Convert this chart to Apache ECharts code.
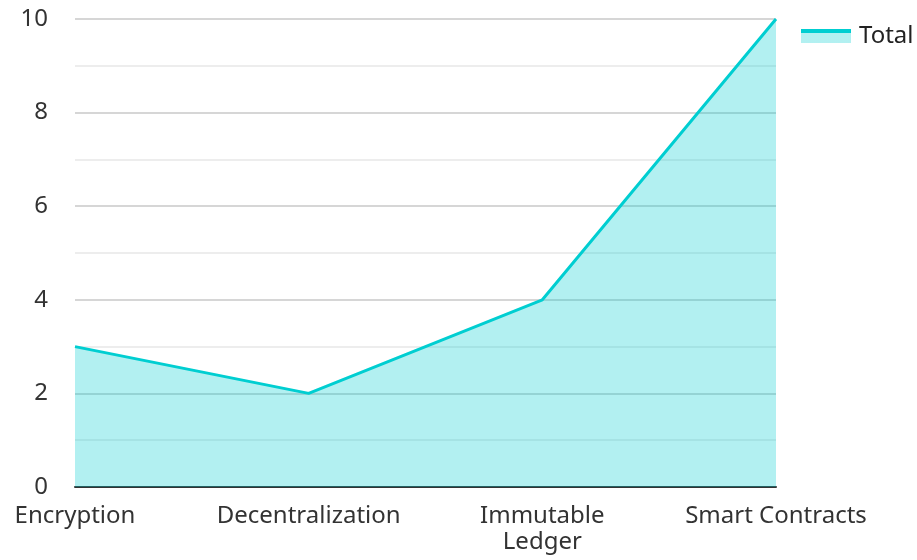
<!DOCTYPE html>
<html><head><meta charset="utf-8">
<script src="https://cdn.jsdelivr.net/npm/echarts@6/dist/echarts.min.js"></script>
<style>html,body{margin:0;padding:0;background:#fff}#c{width:917px;height:560px}</style>
</head><body><div id="c"></div>
<script>
var categories = ["Encryption", "Decentralization", "Immutable Ledger", "Smart Contracts"];
var totalValues = [3, 2, 4, 10];
var seriesName = "Total";

var chart = echarts.init(document.getElementById('c'));
chart.setOption({
  animation: false,
  textStyle: { fontFamily: "Noto Sans" },
  grid: { left: 75, right: 141, top: 19, bottom: 73 },
  legend: {
    top: 19, left: 796, itemWidth: 50, itemHeight: 14, itemGap: 10,
    textStyle: { fontSize: 24, color: "#222", fontFamily: "Noto Sans", padding: [0, 0, 14, 3] },
    data: [{
      name: seriesName, icon: 'rect',
      itemStyle: {
        color: new echarts.graphic.LinearGradient(0, 0, 0, 1, [
          { offset: 0, color: '#00CED1' }, { offset: 0.28, color: '#00CED1' },
          { offset: 0.28, color: 'rgba(0,206,209,0.3)' }, { offset: 1, color: 'rgba(0,206,209,0.3)' }
        ]),
        borderWidth: 0
      }
    }]
  },
  xAxis: {
    type: 'category', boundaryGap: false, data: categories,
    axisLine: { lineStyle: { color: "#333", width: 2 } },
    axisTick: { show: false },
    axisLabel: {
      interval: 0, fontSize: 24, color: "#333", margin: 16, lineHeight: 26,
      formatter: function (v) { return v.length > 15 ? v.replace(' ', '\n') : v; }
    }
  },
  yAxis: {
    type: 'value', min: 0, max: 10, interval: 2,
    axisLine: { show: false }, axisTick: { show: false },
    axisLabel: { fontSize: 24, color: "#333", margin: 27 },
    splitLine: { lineStyle: { color: "#c8c8c8", width: 1.5 } },
    minorTick: { show: false, splitNumber: 2 },
    minorSplitLine: { show: true, lineStyle: { color: "#e8e8e8", width: 1.5 } }
  },
  series: [{
    name: seriesName, type: 'line', data: totalValues,
    symbol: 'none',
    lineStyle: { color: "#00CED1", width: 3 },
    itemStyle: { color: "#00CED1" },
    areaStyle: { color: "#00CED1", opacity: 0.3 },
    z: 3
  }]
});
</script></body></html>
